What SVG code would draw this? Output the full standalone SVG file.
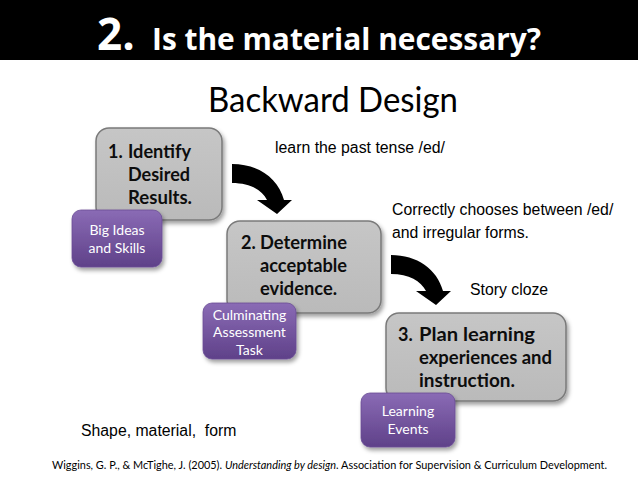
<svg xmlns="http://www.w3.org/2000/svg" width="638" height="479" viewBox="0 0 638 479">
<defs>
<style>
.step{fill:url(#gg);stroke:#7a7a7a;stroke-width:1.5;filter:url(#sh)}
.pb{fill:url(#pg);stroke:#6a4d96;stroke-width:0.8;filter:url(#sh)}
.st{font-family:Lato,"Open Sans",sans-serif;font-weight:700;font-size:18px;fill:#0d0d0d}
.pt{font-family:Lato,"Open Sans",sans-serif;font-size:14px;fill:#ffffff;text-anchor:middle}
.lb{font-family:"Liberation Sans",Arial,sans-serif;font-size:15.8px;fill:#000}
.arrow{fill:#000}
</style>
<linearGradient id="gg" x1="0" y1="0" x2="0" y2="1">
<stop offset="0" stop-color="#c6c6c6"/>
<stop offset="1" stop-color="#bababa"/>
</linearGradient>
<linearGradient id="pg" x1="0" y1="0" x2="0" y2="1">
<stop offset="0" stop-color="#8a6bb5"/>
<stop offset="1" stop-color="#5f4189"/>
</linearGradient>
<filter id="sh" x="-20%" y="-20%" width="140%" height="150%">
<feDropShadow dx="2" dy="3" stdDeviation="2.2" flood-color="#000" flood-opacity="0.38"/>
</filter>
<path id="arr" d="M232,164 C258,164 278,178 284,200 L292,200 L277,214 L257,200 L267,200 C262,190 250,183 232,183 Z"/>
</defs>
<rect x="0" y="0" width="638" height="479" fill="#fff"/>
<g id="header">
<rect x="0" y="0" width="638" height="60" fill="#000"/>
<text x="97" y="50" font-family="'Open Sans',Lato,sans-serif" font-weight="700" font-size="44" fill="#fff">2.</text>
<text x="152" y="50" font-family="'Open Sans',Lato,sans-serif" font-weight="700" font-size="30" fill="#fff" textLength="389" lengthAdjust="spacingAndGlyphs">Is the material necessary?</text>
</g>
<text id="subtitle" x="208" y="112" font-family="Lato,'Open Sans',sans-serif" font-size="34" fill="#000" textLength="250" lengthAdjust="spacingAndGlyphs">Backward Design</text>
<g id="connectors">
<use href="#arr" class="arrow"/>
<use href="#arr" class="arrow" transform="translate(159,91)"/>
</g>
<g id="step1">
<rect class="step" x="96" y="128" width="126" height="92" rx="13"/>
<text class="st" x="108" y="158">1.</text>
<text class="st" x="128" y="158" textLength="63" lengthAdjust="spacingAndGlyphs">Identify</text>
<text class="st" x="128" y="181" textLength="62" lengthAdjust="spacingAndGlyphs">Desired</text>
<text class="st" x="128" y="204" textLength="64" lengthAdjust="spacingAndGlyphs">Results.</text>
</g>
<g id="big-ideas">
<rect class="pb" x="72" y="210" width="90" height="57" rx="9"/>
<text class="pt" x="117" y="235">Big Ideas</text>
<text class="pt" x="117" y="253">and Skills</text>
</g>
<g id="step2">
<rect class="step" x="227" y="221" width="154" height="92" rx="13"/>
<text class="st" x="241" y="249">2.</text>
<text class="st" x="260" y="249" textLength="87" lengthAdjust="spacingAndGlyphs">Determine</text>
<text class="st" x="260" y="272" textLength="87" lengthAdjust="spacingAndGlyphs">acceptable</text>
<text class="st" x="260" y="295" textLength="77" lengthAdjust="spacingAndGlyphs">evidence.</text>
</g>
<g id="culminating">
<rect class="pb" x="203" y="303" width="93" height="56" rx="9"/>
<text class="pt" x="249.5" y="320">Culminating</text>
<text class="pt" x="249.5" y="337">Assessment</text>
<text class="pt" x="249.5" y="355">Task</text>
</g>
<g id="step3">
<rect class="step" x="386" y="313" width="180" height="88" rx="13"/>
<text class="st" x="398" y="341">3.</text>
<text class="st" x="419" y="341" textLength="116" lengthAdjust="spacingAndGlyphs">Plan learning</text>
<text class="st" x="419" y="364" textLength="133" lengthAdjust="spacingAndGlyphs">experiences and</text>
<text class="st" x="419" y="387" textLength="96" lengthAdjust="spacingAndGlyphs">instruction.</text>
</g>
<g id="learning-events">
<rect class="pb" x="361" y="393" width="94" height="54" rx="9"/>
<text class="pt" x="408" y="416">Learning</text>
<text class="pt" x="408" y="434">Events</text>
</g>
<g id="labels">
<text class="lb" x="275" y="153" textLength="170" lengthAdjust="spacingAndGlyphs">learn the past tense /ed/</text>
<text class="lb" x="392" y="215">Correctly chooses between /ed/</text>
<text class="lb" x="392" y="238">and irregular forms.</text>
<text class="lb" x="470" y="295">Story cloze</text>
<text class="lb" x="81" y="436" style="white-space:pre">Shape, material,  form</text>
</g>
<text id="citation" x="52" y="469" font-family="Lato,'Open Sans',sans-serif" font-size="11" fill="#000" textLength="555" lengthAdjust="spacingAndGlyphs">Wiggins, G. P., &amp; McTighe, J. (2005). <tspan font-style="italic">Understanding by design</tspan>. Association for Supervision &amp; Curriculum Development.</text>
</svg>
